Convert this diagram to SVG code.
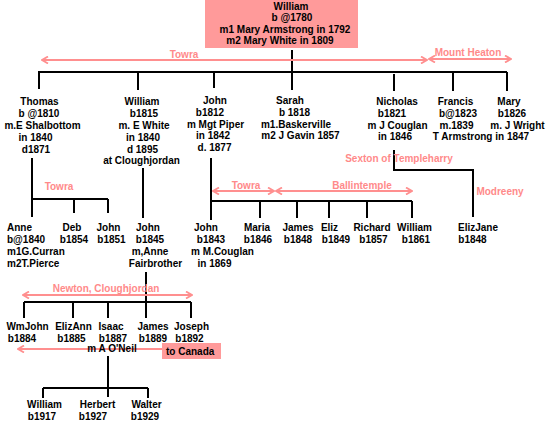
<svg xmlns="http://www.w3.org/2000/svg" width="551" height="424" viewBox="0 0 551 424">
<style>
text{font-family:"Liberation Sans",Arial,sans-serif;font-size:10px;font-weight:bold;fill:#000}
.m{text-anchor:middle}
.p{fill:#ff8a8a}
.ln{stroke:#000;stroke-width:2;fill:none}
.pk{stroke:#ff8f8f;stroke-width:2;fill:none}
.box{fill:#ff9a9a}
</style>
<defs>
<marker id="ah" viewBox="0 0 8 8" refX="7" refY="4" markerWidth="8" markerHeight="8" markerUnits="userSpaceOnUse" orient="auto-start-reverse">
<path d="M1,0.5 L7,4 L1,7.5" fill="none" stroke="#ff8f8f" stroke-width="1.8"/>
</marker>
</defs>
<rect width="551" height="424" fill="#fff"/>
<g id="connectors">
<path class="ln" d="M292,50 V90 M38,72 H507 M39,72 V89 M138,72 V90 M214,72 V88 M394,74 V91 M453,73 V91 M507,72 V91"/>
<path class="ln" d="M32,158 V217 M32,199 H108 M74,199 V213 M108,199 V213"/>
<path class="ln" d="M143,168 V218"/>
<path class="ln" d="M211,158 V220 M211,201 H412 M260,201 V218 M297,201 V218 M329,201 V218 M367,201 V218 M412,201 V218"/>
<path class="ln" d="M394,150 V170 H473 V217"/>
<path class="ln" d="M146,272 V318 M24,302 H191 M24,302 V318 M73,302 V318 M108,302 V318 M191,302 V318"/>
<path class="ln" d="M108,356 V397 M43,388 H148 M43,388 V398 M148,388 V398"/>
<path class="pk" d="M42,60 H427" marker-start="url(#ah)" marker-end="url(#ah)"/>
<path class="pk" d="M429,59 H511" marker-start="url(#ah)" marker-end="url(#ah)"/>
<path class="pk" d="M213,191 H274" marker-start="url(#ah)" marker-end="url(#ah)"/>
<path class="pk" d="M276,191 H412" marker-start="url(#ah)" marker-end="url(#ah)"/>
<path class="pk" d="M23,295 H192" marker-start="url(#ah)" marker-end="url(#ah)"/>
<path class="pk" d="M18,349 H162" stroke-width="1.3" marker-start="url(#ah)"/>
</g>
<g id="william-root">
<rect class="box" x="205" y="0" width="153" height="48"/>
<text class="m" x="291" y="9.5">William</text>
<text class="m" x="292" y="21">b @1780</text>
<text class="m" x="285" y="32.5">m1 Mary Armstrong in 1792</text>
<text class="m" x="280" y="44">m2 Mary White in 1809</text>
</g>
<g id="labels-places">
<text class="m p" x="184" y="57.5">Towra</text>
<text class="m p" x="468" y="55.5">Mount Heaton</text>
<text class="m p" x="59" y="189.5">Towra</text>
<text class="m p" x="246" y="188.5">Towra</text>
<text class="m p" x="362" y="188.5">Ballintemple</text>
<text class="m p" x="399" y="162">Sexton of Templeharry</text>
<text class="m p" x="500" y="194.5">Modreeny</text>
<text class="m p" x="106" y="292">Newton, Cloughjordan</text>
</g>
<g id="thomas">
<text class="m" x="39.5" y="105">Thomas</text>
<text class="m" x="39" y="117">b @1810</text>
<text class="m" x="42.5" y="129">m.E Shalbottom</text>
<text class="m" x="35.5" y="141">in 1840</text>
<text class="m" x="36" y="152.5">d1871</text>
</g>
<g id="william-1815">
<text class="m" x="142" y="105">William</text>
<text class="m" x="144" y="116.5">b1815</text>
<text class="m" x="144" y="128.5">m. E White</text>
<text class="m" x="143" y="140.5">in 1840</text>
<text class="m" x="142.5" y="152.5">d 1895</text>
<text class="m" x="141.5" y="164">at Cloughjordan</text>
</g>
<g id="john-1812">
<text class="m" x="215" y="104">John</text>
<text class="m" x="210" y="115.5">b1812</text>
<text class="m" x="215.5" y="127.5">m Mgt Piper</text>
<text class="m" x="213" y="139">in 1842</text>
<text class="m" x="214.5" y="151">d. 1877</text>
</g>
<g id="sarah">
<text class="m" x="290" y="104">Sarah</text>
<text class="m" x="294.5" y="115.5">b 1818</text>
<text class="m" x="296" y="127.5">m1.Baskerville</text>
<text class="m" x="300.5" y="139">m2 J Gavin 1857</text>
</g>
<g id="nicholas">
<text class="m" x="397" y="105">Nicholas</text>
<text class="m" x="392" y="116.5">b1821</text>
<text class="m" x="397.5" y="128.5">m J Couglan</text>
<text class="m" x="395" y="140">in 1846</text>
</g>
<g id="francis">
<text class="m" x="455.5" y="105">Francis</text>
<text class="m" x="458" y="116.5">b@1823</text>
<text class="m" x="456.5" y="128.5">m.1839</text>
<text class="m" x="481" y="140">T Armstrong in 1847</text>
</g>
<g id="mary">
<text class="m" x="509" y="105">Mary</text>
<text class="m" x="512" y="116.5">b1826</text>
<text class="m" x="517.5" y="128.5">m. J Wright</text>
</g>
<g id="anne">
<text x="7" y="231">Anne</text>
<text x="7" y="243">b@1840</text>
<text x="7" y="255">m1G.Curran</text>
<text x="7" y="267">m2T.Pierce</text>
</g>
<g id="deb"><text class="m" x="72" y="231">Deb</text><text class="m" x="74" y="243">b1854</text></g>
<g id="john-1851"><text class="m" x="108.5" y="231">John</text><text class="m" x="111.5" y="243">b1851</text></g>
<g id="john-1845">
<text class="m" x="148" y="231">John</text>
<text class="m" x="150" y="243">b1845</text>
<text class="m" x="150" y="255">m,Anne</text>
<text class="m" x="155.5" y="267">Fairbrother</text>
</g>
<g id="john-1843">
<text class="m" x="206" y="231">John</text>
<text class="m" x="211" y="243">b1843</text>
<text class="m" x="222.5" y="255">m M.Couglan</text>
<text class="m" x="214.5" y="267">in 1869</text>
</g>
<g id="maria"><text class="m" x="257" y="231">Maria</text><text class="m" x="258" y="243">b1846</text></g>
<g id="james-1848"><text class="m" x="298" y="231">James</text><text class="m" x="298" y="243">b1848</text></g>
<g id="eliz"><text class="m" x="329.5" y="231">Eliz</text><text class="m" x="336" y="243">b1849</text></g>
<g id="richard"><text class="m" x="372" y="231">Richard</text><text class="m" x="373.5" y="243">b1857</text></g>
<g id="william-1861"><text class="m" x="414.5" y="231">William</text><text class="m" x="416" y="243">b1861</text></g>
<g id="elizjane"><text class="m" x="478" y="231">ElizJane</text><text class="m" x="472.5" y="243">b1848</text></g>
<g id="wmjohn"><text class="m" x="27.5" y="330">WmJohn</text><text class="m" x="22" y="342">b1884</text></g>
<g id="elizann"><text class="m" x="73.5" y="330">ElizAnn</text><text class="m" x="71.5" y="342">b1885</text></g>
<g id="isaac"><text class="m" x="111" y="330">Isaac</text><text class="m" x="113" y="342">b1887</text><text class="m" x="112" y="352">m A O'Neil</text></g>
<g id="james-1889"><text class="m" x="153" y="330">James</text><text class="m" x="153" y="342">b1889</text></g>
<g id="joseph">
<text class="m" x="191.5" y="330">Joseph</text><text class="m" x="189.5" y="342">b1892</text>
<rect class="box" x="162" y="343" width="59" height="16"/>
<text x="166" y="355">to Canada</text>
</g>
<g id="william-1917"><text class="m" x="44.5" y="408">William</text><text class="m" x="42" y="420">b1917</text></g>
<g id="herbert"><text class="m" x="97.5" y="408">Herbert</text><text class="m" x="93" y="420">b1927</text></g>
<g id="walter"><text class="m" x="146.5" y="408">Walter</text><text class="m" x="145" y="420">b1929</text></g>
</svg>
